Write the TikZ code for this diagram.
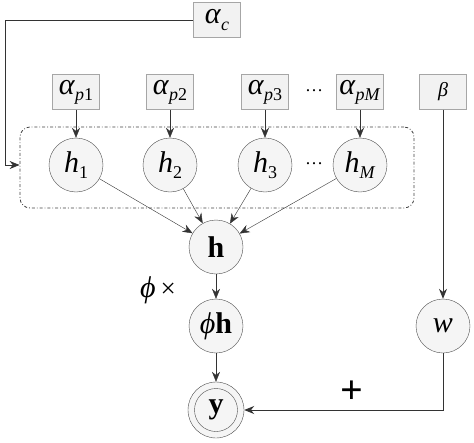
\documentclass[tikz,border=0pt]{standalone}
\usepackage{fontspec}
\usepackage{graphicx}
\setmainfont{Liberation Serif}
\usetikzlibrary{arrows.meta,shapes.geometric}
\newcommand\bigt[1]{\scalebox{1.5}{\fontsize{20}{22}\selectfont #1}}
\newcommand\mysub[1]{\raisebox{-0.45ex}{\fontsize{12}{14}\selectfont #1}}
\begin{document}
\begin{tikzpicture}[x=1pt,y=-1pt,
  every node/.style={inner sep=0pt},
  pbox/.style={draw=gray!70, fill=gray!10, minimum width=47pt, minimum height=35pt},
  hcirc/.style={circle, draw=gray!60!black, fill=gray!8, minimum size=54pt},
  conn/.style={draw=gray!40!black, -{Stealth[length=10pt,width=8pt]}}]
\useasboundingbox (0,0) rectangle (474,442);
\node[pbox] (ac) at (217,20) {\bigt{\textit{α}\mysub{\textit{c}}}};
\node[pbox] (a1) at (76,92) {\bigt{\textit{α}\mysub{\textit{p}1}}};
\node[pbox] (a2) at (170,92) {\bigt{\textit{α}\mysub{\textit{p}2}}};
\node[pbox] (a3) at (265,92) {\bigt{\textit{α}\mysub{\textit{p}3}}};
\node (ad) at (314,91) {\fontsize{18}{20}\selectfont\ldots};
\node[pbox] (aM) at (360,92) {\bigt{\textit{α}\mysub{\textit{pM}}}};
\node[pbox] (b) at (443,92) {\fontsize{20}{22}\selectfont\textit{β}};
\node[draw=gray!50!black, thick, dash dot, rounded corners=10pt, minimum width=394pt, minimum height=81pt] (grp) at (217,167.5) {};
\node[hcirc] (h1) at (76,165) {\bigt{\textit{h}\mysub{1}}};
\node[hcirc] (h2) at (170,165) {\bigt{\textit{h}\mysub{2}}};
\node[hcirc] (h3) at (265,165) {\bigt{\textit{h}\mysub{3}}};
\node (hd) at (314,164) {\fontsize{18}{20}\selectfont\ldots};
\node[hcirc] (hM) at (360,165) {\bigt{\textit{h}\mysub{\textit{M}}}};
\node[hcirc] (h) at (216,247) {\bigt{\textbf{h}}};
\node[hcirc] (ph) at (216,326) {\bigt{\textit{ϕ}\textbf{h}}};
\node[hcirc] (w) at (443,326) {\bigt{\textit{w}}};
\node[circle, draw=gray!60!black, fill=gray!8, minimum size=56pt] (y) at (216,410) {};
\node[circle, draw=gray!60!black, fill=gray!8, minimum size=43pt] (yi) at (216,410) {\bigt{\textbf{y}}};
\node (phx) at (158,290) {\bigt{\textit{ϕ}\,\fontsize{18}{20}\selectfont ×}};
\node (plus) at (352,392) {\scalebox{2}{\fontsize{20}{22}\selectfont\bfseries +}};
\coordinate (c1) at (5,20);
\coordinate (c2) at (5,165);
\coordinate (c3) at (443,410);
\draw[conn, thick] (ac.west) -- (c1) -- (c2) -- (grp.west |- c2);
\draw[conn] (a1) -- (h1);
\draw[conn] (a2) -- (h2);
\draw[conn] (a3) -- (h3);
\draw[conn] (aM) -- (hM);
\draw[conn] (h1) -- (h);
\draw[conn] (h2) -- (h);
\draw[conn] (h3) -- (h);
\draw[conn] (hM) -- (h);
\draw[conn] (h) -- (ph);
\draw[conn] (ph) -- (y);
\draw[conn, thick] (b) -- (w);
\draw[conn, thick] (w.south) -- (c3) -- (y.east);
\end{tikzpicture}
\end{document}
